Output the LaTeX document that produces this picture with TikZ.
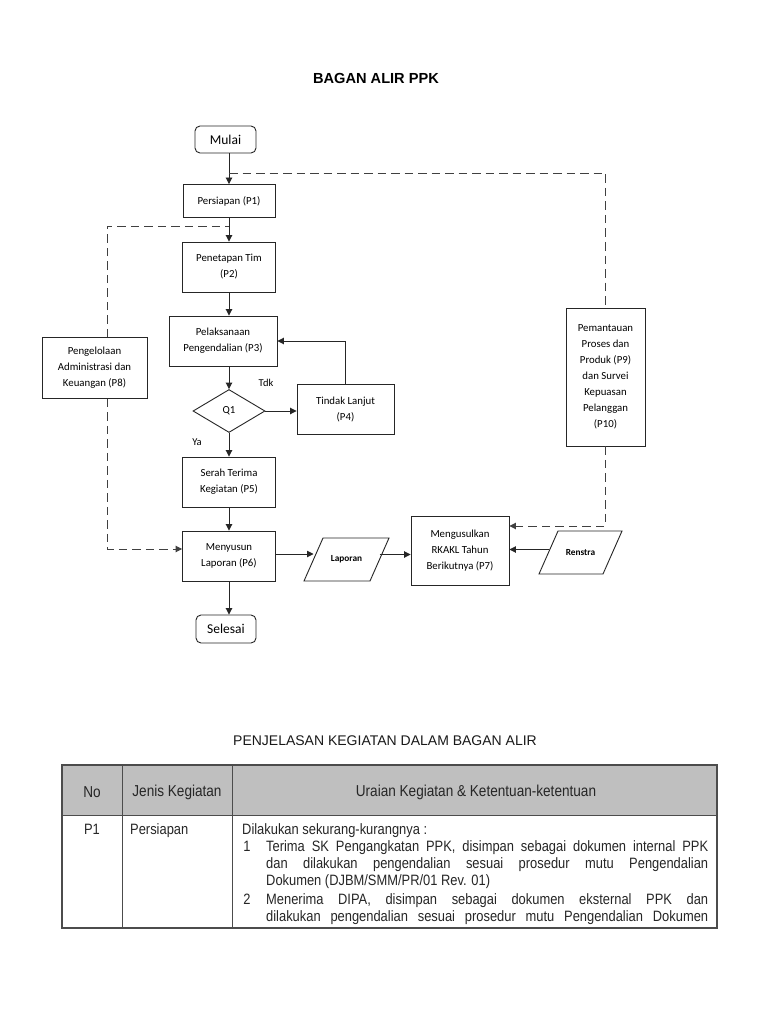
\documentclass[tikz,border=0pt]{standalone}
\usepackage{fontspec}
\setmainfont{Carlito}
\newfontfamily\arialf{Liberation Sans}
\newfontfamily\narrowf[FakeStretch=0.86]{Liberation Sans}
\usetikzlibrary{shapes.geometric,arrows.meta}
\begin{document}
\begin{tikzpicture}[x=1pt,y=-1pt,
 fbox/.style={draw=black!85, line width=0.9pt, align=center, inner sep=0pt, font=\fontsize{10.8}{16}\selectfont, text=black},
 term/.style={fbox, rounded corners=5pt},
 arr/.style={-{Triangle[length=6.5pt,width=6.5pt]}, line width=0.9pt, draw=black!85},
 dashln/.style={line width=0.9pt, draw=black!75, dash pattern=on 8.5pt off 5pt},
 iolbl/.style={inner sep=0pt, font=\bfseries\fontsize{9.3}{11}\selectfont, text=black},
 ioshape/.style={draw=black!85, line width=0.9pt},
 lbl/.style={font=\fontsize{10.5}{12}\selectfont, inner sep=0pt, text=black},
 tcell/.style={font=\narrowf\fontsize{15}{17}\selectfont, inner sep=0pt, text=black!85}]
\useasboundingbox (0,0) rectangle (768,1024);
\fill[white] (0,0) rectangle (768,1024);

\node[font=\arialf\bfseries\fontsize{14.6}{16}\selectfont] (title) at (376,78) {BAGAN ALIR PPK};

\node[term, minimum width=61pt, minimum height=27pt, font=\fontsize{13.5}{15}\selectfont] (mulai) at (225.5,139.5) {Mulai};
\node[fbox, minimum width=92pt, minimum height=33pt] (p1) at (229,201) {Persiapan (P1)};
\node[fbox, minimum width=93pt, minimum height=50pt] (p2) at (229,267) {Penetapan Tim\\(P2)};
\node[fbox, minimum width=108pt, minimum height=50pt] (p3) at (223,341) {Pelaksanaan\\Pengendalian (P3)};
\node[fbox, diamond, aspect=1.67, minimum width=72pt, minimum height=43pt] (q1) at (229,411) {Q1};
\node[fbox, minimum width=97pt, minimum height=50pt] (p4) at (345.5,409) {Tindak Lanjut\\(P4)};
\node[fbox, minimum width=93pt, minimum height=50pt] (p5) at (229,482) {Serah Terima\\Kegiatan (P5)};
\node[fbox, minimum width=93pt, minimum height=50pt] (p6) at (229,556) {Menyusun\\Laporan (P6)};
\node[term, minimum width=60pt, minimum height=28pt, font=\fontsize{13.5}{15}\selectfont] (selesai) at (226,629) {Selesai};
\node[fbox, minimum width=105pt, minimum height=61pt] (p8) at (94.5,368) {Pengelolaan\\Administrasi dan\\Keuangan (P8)};
\node[fbox, minimum width=79pt, minimum height=138pt] (p9) at (605.5,377) {Pemantauan\\Proses dan\\Produk (P9)\\dan Survei\\Kepuasan\\Pelanggan\\(P10)};
\node[fbox, minimum width=98pt, minimum height=69pt] (p7) at (460,550.5) {Mengusulkan\\RKAKL Tahun\\Berikutnya (P7)};

% data parallelograms
\draw[ioshape] (304,581) -- (323,538) -- (389,538) -- (370,581) -- cycle;
\node[iolbl] (lap) at (346.5,559.5) {Laporan};
\coordinate (lapw) at (313.5,559.5);
\coordinate (lape) at (379.5,559.5);
\draw[ioshape] (539,574) -- (558,531) -- (622,531) -- (603,574) -- cycle;
\node[iolbl] (ren) at (580.5,552.5) {Renstra};
\coordinate (renw) at (548.5,552.5);

\node[lbl] (tdk) at (266,383) {Tdk};
\node[lbl] (ya) at (197,442) {Ya};

\coordinate (j1) at (229,173);
\coordinate (j2) at (229,226);

\draw[arr] (mulai.south -| p1.north) -- (p1.north);
\draw[arr] (p1.south) -- (p2.north);
\draw[arr] (p2.south) -- (p2.south |- p3.north);
\draw[arr] (p2.south |- p3.south) -- (q1.north);
\draw[arr] (q1.east) -- (q1.east -| p4.west);
\draw[arr] (p4.north) |- (p3.east);
\draw[arr] (q1.south) -- (p5.north);
\draw[arr] (p5.south) -- (p6.north);
\draw[arr] (p6.south) -- (p6.south |- selesai.north);
\draw[arr] ([yshift=2pt]p6.east) -- ([yshift=2pt]p6.east -| lapw);
\draw[arr] ([yshift=5pt]lape) -- ([yshift=5pt]lape -| p7.west);
\draw[arr] ([yshift=3pt]renw) -- ([yshift=3pt]renw -| p7.east);
\draw[dashln] (j1) -| (p9.north);
\draw[dashln, arr, draw=black!75] (p9.south) |- ([yshift=24.5pt]p7.east);
\draw[dashln] ([xshift=12.5pt]p8.north) |- (j2);
\draw[dashln, arr, draw=black!75] ([xshift=12.5pt]p8.south) |- ([yshift=7pt]p6.west);

% table
\node[font=\arialf\fontsize{14}{16}\selectfont, text=black!90] (ttitle) at (385,741) {PENJELASAN KEGIATAN DALAM BAGAN ALIR};
\fill[black!25] (62,765) rectangle (717,815);
\draw[line width=1pt, black!70] (62,815) -- (717,815) (122,765) -- (122,928) (232,765) -- (232,928);
\draw[line width=1.3pt, black!70] (62,765) rectangle (717,928);

\node[tcell, font=\narrowf\fontsize{15.8}{17}\selectfont] (hno) at (92,792) {No};
\node[tcell, font=\narrowf\fontsize{15.8}{17}\selectfont] (hjenis) at (177,792) {Jenis Kegiatan};
\node[tcell, font=\narrowf\fontsize{15.8}{17}\selectfont] (huraian) at (476,792) {Uraian Kegiatan \& Ketentuan-ketentuan};
\node[tcell, anchor=base] (cno) at (92,834) {P1};
\node[tcell, anchor=base west] (cjenis) at (130,834) {Persiapan};
\node[tcell, anchor=base west] (l0) at (242,834) {Dilakukan sekurang-kurangnya :};
\node[tcell, anchor=base] (n1) at (247,851) {1};
\node[tcell, anchor=base west] (l1) at (266,851) {\makebox[442pt][s]{Terima SK Pengangkatan PPK, disimpan sebagai dokumen internal PPK}};
\node[tcell, anchor=base west] (l2) at (266,868) {\makebox[442pt][s]{dan dilakukan pengendalian sesuai prosedur mutu Pengendalian}};
\node[tcell, anchor=base west] (l3) at (266,885) {Dokumen (DJBM/SMM/PR/01 Rev. 01)};
\node[tcell, anchor=base] (n2) at (247,904) {2};
\node[tcell, anchor=base west] (l4) at (266,904) {\makebox[442pt][s]{Menerima DIPA, disimpan sebagai dokumen eksternal PPK dan}};
\node[tcell, anchor=base west] (l5) at (266,921) {\makebox[442pt][s]{dilakukan pengendalian sesuai prosedur mutu Pengendalian Dokumen}};
\end{tikzpicture}
\end{document}
